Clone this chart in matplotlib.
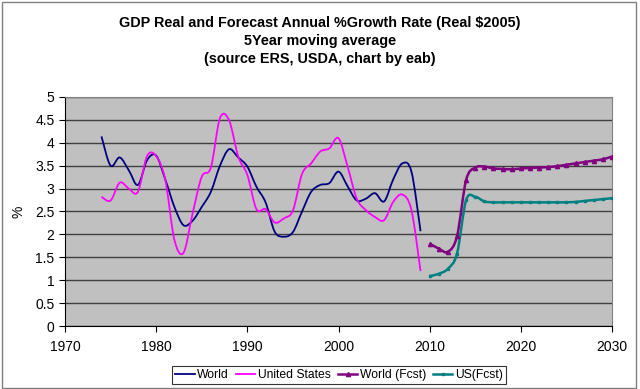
import matplotlib.pyplot as plt
import matplotlib.patches as mpatches
from matplotlib.path import Path
from matplotlib.lines import Line2D
import numpy as np

plt.rcParams['font.family'] = ['Liberation Sans', 'DejaVu Sans']

years_hist = list(range(1974, 2010))
world = [4.14, 3.5, 3.68, 3.4, 3.08, 3.62, 3.72, 3.2, 2.6, 2.2,
         2.3, 2.6, 2.93, 3.5, 3.86, 3.68, 3.48, 3.04, 2.7, 2.06,
         1.95, 2.05, 2.5, 2.93, 3.08, 3.12, 3.37, 3.05, 2.74, 2.78,
         2.9, 2.72, 3.2, 3.55, 3.37, 2.07]
us = [2.82, 2.74, 3.13, 3.0, 2.93, 3.71, 3.71, 3.19, 1.88, 1.6,
      2.46, 3.26, 3.46, 4.54, 4.49, 3.7, 3.3, 2.55, 2.55, 2.26,
      2.35, 2.52, 3.32, 3.55, 3.81, 3.88, 4.1, 3.48, 2.78, 2.53,
      2.38, 2.31, 2.71, 2.87, 2.53, 1.2]

years_fcst = list(range(2010, 2031))
world_fcst = [1.8, 1.69, 1.62, 1.96, 3.19, 3.46, 3.48, 3.44, 3.43, 3.42,
              3.44, 3.45, 3.46, 3.47, 3.49, 3.52, 3.55, 3.58, 3.61, 3.64, 3.7]
us_fcst = [1.09, 1.14, 1.25, 1.58, 2.75, 2.82, 2.72, 2.7, 2.7, 2.7,
           2.7, 2.7, 2.7, 2.7, 2.7, 2.7, 2.71, 2.73, 2.75, 2.77, 2.79]


def smooth_path(x, y):
    # Excel-like smoothed line: Catmull-Rom converted to cubic Bezier
    x = np.asarray(x, float)
    y = np.asarray(y, float)
    pts = np.column_stack([x, y])
    verts = [pts[0]]
    codes = [Path.MOVETO]
    n = len(pts)
    for i in range(n - 1):
        p0 = pts[max(i - 1, 0)]
        p1 = pts[i]
        p2 = pts[i + 1]
        p3 = pts[min(i + 2, n - 1)]
        c1 = p1 + (p2 - p0) / 6.0
        c2 = p2 - (p3 - p1) / 6.0
        verts += [c1, c2, p2]
        codes += [Path.CURVE4] * 3
    return Path(verts, codes)


fig = plt.figure(figsize=(6.4, 3.89), dpi=100)
ax = fig.add_axes([65 / 640, 1 - 326 / 389, 547 / 640, 229 / 389])
ax.set_facecolor('#C0C0C0')

for xs, ys, col, lw in [(years_hist, world, '#000080', 1.3),
                        (years_hist, us, '#FF00FF', 1.3),
                        (years_fcst, world_fcst, '#800080', 1.8),
                        (years_fcst, us_fcst, '#008080', 1.8)]:
    ax.add_patch(mpatches.PathPatch(smooth_path(xs, ys), fill=False,
                                    edgecolor=col, lw=lw, zorder=3))

ax.plot(years_fcst, world_fcst, ls='none', marker='^', ms=3,
        color='#800080', zorder=4)
ax.plot(years_fcst, us_fcst, ls='none', marker='s', ms=2,
        color='#008080', zorder=4)

ax.set_xlim(1970, 2030)
ax.set_ylim(0, 5)
ax.set_xticks(range(1970, 2031, 10))
ax.set_yticks(np.arange(0, 5.01, 0.5))
ax.set_yticklabels(['0', '0.5', '1', '1.5', '2', '2.5', '3', '3.5', '4', '4.5', '5'])
ax.yaxis.grid(True, color='#404040', lw=1)
ax.set_axisbelow(True)
ax.tick_params(labelsize=10, length=4, direction='out', color='black')
ax.tick_params(axis='x', pad=6)
for s in ['top', 'right']:
    ax.spines[s].set_color('#808080')
for s in ['left', 'bottom']:
    ax.spines[s].set_color('black')
ax.set_ylabel('%', fontsize=10, labelpad=7)

fig.text(0.5, 1 - 23 / 389, 'GDP Real and Forecast Annual %Growth Rate (Real $2005)',
         ha='center', va='center', fontsize=10.4, fontweight='bold')
fig.text(0.5, 1 - 41 / 389, '5Year moving average',
         ha='center', va='center', fontsize=10.4, fontweight='bold')
fig.text(0.5, 1 - 59 / 389, '(source ERS, USDA, chart by eab)',
         ha='center', va='center', fontsize=10.4, fontweight='bold')

handles = [Line2D([], [], color='#000080', lw=1.3),
           Line2D([], [], color='#FF00FF', lw=1.3),
           Line2D([], [], color='#800080', lw=1.8, marker='^', ms=3),
           Line2D([], [], color='#008080', lw=1.8, marker='s', ms=2)]
labels = ['World', 'United States', 'World (Fcst)', 'US(Fcst)']
leg = fig.legend(handles, labels, loc='center', ncol=4,
                 bbox_to_anchor=(339 / 640, 1 - 375 / 389),
                 fontsize=8.7, frameon=True, fancybox=False,
                 handlelength=1.6, handletextpad=0.2, columnspacing=0.6,
                 borderpad=0.25, edgecolor='black')
leg.get_frame().set_linewidth(0.8)

fig.add_artist(mpatches.Rectangle((2 / 640, 1 / 389), 634 / 640, 386 / 389,
                                  transform=fig.transFigure, fill=False,
                                  edgecolor='#808080', lw=1))

fig.savefig('out.png', dpi=100)
